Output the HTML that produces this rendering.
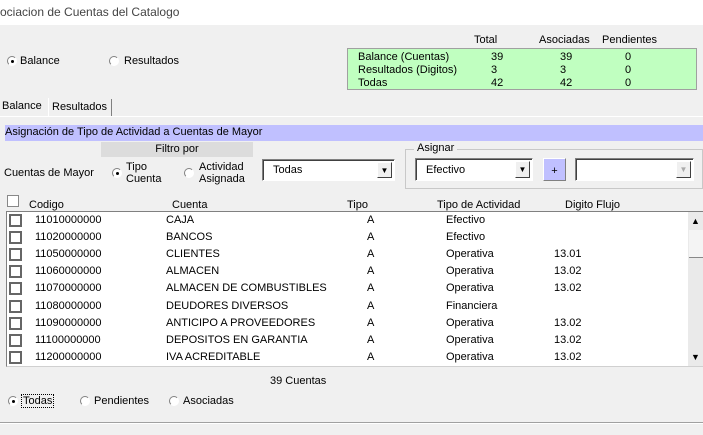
<!DOCTYPE html>
<html><head><style>
body{margin:0;width:703px;height:435px;overflow:hidden;background:#f0f0f0;font-family:"Liberation Sans",sans-serif;font-size:11px;color:#000;position:relative}
.a{position:absolute;white-space:nowrap}
.rad{position:absolute;width:10px;height:10px;border-radius:50%;border:1px solid #a0a0a0;border-color:#808080 #fff #fff #808080;background:#fff;box-sizing:border-box}
.rad.on::after{content:"";position:absolute;left:3px;top:3px;width:3px;height:3px;border-radius:50%;background:#000}
.cb{position:absolute;width:11px;height:11px;border:2px solid #555;box-sizing:border-box;background:#fff}
.combo{position:absolute;background:#fff;border:1px solid;border-color:#808080 #fff #fff #808080;box-shadow:inset 1px 1px 0 #404040;box-sizing:border-box}
.btn{position:absolute;right:2px;top:2px;width:15px;bottom:2px;background:#f0f0f0;border:1px solid;border-color:#fff #404040 #404040 #fff;box-sizing:border-box;font-size:8px;text-align:center;line-height:15px}
</style></head><body>
<div class="a" style="left:0;top:0;width:703px;height:25px;background:#fff"></div>
<div class="a" style="left:0;top:5px;font-size:12px;color:#444">ociacion de Cuentas del Catalogo</div>

<div class="rad on" style="left:7px;top:56px"></div><div class="a" style="left:20px;top:55px">Balance</div>
<div class="rad" style="left:109px;top:56px"></div><div class="a" style="left:124px;top:55px">Resultados</div>

<div class="a" style="left:474px;top:34px">Total</div>
<div class="a" style="left:539px;top:34px">Asociadas</div>
<div class="a" style="left:602px;top:34px">Pendientes</div>
<div class="a" style="left:347px;top:48px;width:350px;height:42px;background:#c0ffc0;border:1px solid #a0a0a0;box-sizing:border-box"></div>
<div class="a" style="left:358px;top:51px;line-height:13px">Balance (Cuentas)<br>Resultados (Digitos)<br>Todas</div>
<div class="a" style="left:491px;top:51px;line-height:13px">39<br>3<br>42</div>
<div class="a" style="left:560px;top:51px;line-height:13px">39<br>3<br>42</div>
<div class="a" style="left:625px;top:51px;line-height:13px">0<br>0<br>0</div>

<div class="a" style="left:0;top:116px;width:703px;height:1px;background:#fff"></div>
<div class="a" style="left:2px;top:100px">Balance</div>
<div class="a" style="left:48px;top:98px;width:1px;height:18px;background:#fff"></div>
<div class="a" style="left:52px;top:101px">Resultados</div>
<div class="a" style="left:111px;top:99px;width:1px;height:17px;background:#808080"></div>

<div class="a" style="left:5px;top:125px;width:698px;height:16px;background:#c0c0ff"></div>
<div class="a" style="left:5px;top:126px">Asignación de Tipo de Actividad a Cuentas de Mayor</div>
<div class="a" style="left:101px;top:142px;width:152px;height:15px;background:#dcdcdc;text-align:center;line-height:15px">Filtro por</div>

<div class="a" style="left:4px;top:167px">Cuentas de Mayor</div>
<div class="rad on" style="left:112px;top:168px"></div><div class="a" style="left:126px;top:161px;line-height:12px">Tipo<br>Cuenta</div>
<div class="rad" style="left:184px;top:168px"></div><div class="a" style="left:199px;top:161px;line-height:12px">Actividad<br>Asignada</div>
<div class="combo" style="left:262px;top:159px;width:133px;height:22px"><span class="a" style="left:10px;top:4px">Todas</span><div class="btn">▼</div></div>

<div class="a" style="left:405px;top:149px;width:298px;height:40px;border:1px solid #c8c8c8;box-sizing:border-box"></div>
<div class="a" style="left:414px;top:142px;background:#f0f0f0;padding:0 3px">Asignar</div>
<div class="combo" style="left:415px;top:158px;width:118px;height:23px"><span class="a" style="left:10px;top:5px">Efectivo</span><div class="btn">▼</div></div>
<div class="a" style="left:543px;top:158px;width:23px;height:23px;background:#c0c0ff;border:1px solid;border-color:#fff #808080 #808080 #fff;box-sizing:border-box;text-align:center;line-height:24px">+</div>
<div class="combo" style="left:575px;top:158px;width:119px;height:23px"><div class="btn" style="color:#aaa">▼</div></div>

<div class="a" style="left:7px;top:195px;width:10px;height:10px;border:1px solid #888;background:#fff"></div>
<div class="a" style="left:29px;top:199px">Codigo</div>
<div class="a" style="left:172px;top:199px">Cuenta</div>
<div class="a" style="left:347px;top:199px">Tipo</div>
<div class="a" style="left:437px;top:199px">Tipo de Actividad</div>
<div class="a" style="left:565px;top:199px">Digito Flujo</div>

<div class="a" style="left:6px;top:211px;width:697px;height:156px;background:#fff;border-top:1px solid #808080;border-left:1px solid #808080;border-bottom:1px solid #d0d0d0;box-sizing:border-box"></div>
<div class="a" style="left:688px;top:212px;width:15px;height:154px;background:#eaeaea"></div>
<div class="a" style="left:688px;top:212px;width:15px;height:18px;font-size:9px;text-align:center;line-height:18px">▲</div>
<div class="a" style="left:689px;top:230px;width:14px;height:27px;background:#f4f4f4;border-bottom:1px solid #888"></div>
<div class="a" style="left:688px;top:348px;width:15px;height:18px;font-size:9px;text-align:center;line-height:18px">▼</div>

<div id="rows"></div>
<script>
var d=[["11010000000","CAJA","Efectivo",""],["11020000000","BANCOS","Efectivo",""],["11050000000","CLIENTES","Operativa","13.01"],["11060000000","ALMACEN","Operativa","13.02"],["11070000000","ALMACEN DE COMBUSTIBLES","Operativa","13.02"],["11080000000","DEUDORES DIVERSOS","Financiera",""],["11090000000","ANTICIPO A PROVEEDORES","Operativa","13.02"],["11100000000","DEPOSITOS EN GARANTIA","Operativa","13.02"],["11200000000","IVA ACREDITABLE","Operativa","13.02"]];
var h="";d.forEach(function(r,i){var y=214+i*17.1;
h+='<div class="cb" style="left:9px;top:'+(y)+'px;width:13px;height:13px;border-color:#666"></div>'+
'<div class="a" style="left:35px;top:'+y+'px">'+r[0]+'</div><div class="a" style="left:166px;top:'+y+'px">'+r[1]+'</div>'+
'<div class="a" style="left:367px;top:'+y+'px">A</div><div class="a" style="left:446px;top:'+y+'px">'+r[2]+'</div><div class="a" style="left:554px;top:'+y+'px">'+r[3]+'</div>';});
document.getElementById("rows").innerHTML=h;
</script>

<div class="a" style="left:270px;top:375px">39 Cuentas</div>
<div class="rad on" style="left:8px;top:396px"></div><div class="a" style="left:21px;top:394px;border:1px dotted #000;padding:0 1px">Todas</div>
<div class="rad" style="left:80px;top:396px"></div><div class="a" style="left:94px;top:395px">Pendientes</div>
<div class="rad" style="left:169px;top:396px"></div><div class="a" style="left:183px;top:395px">Asociadas</div>
<div class="a" style="left:0;top:422px;width:703px;height:1px;background:#a0a0a0"></div>
<div class="a" style="left:0;top:423px;width:703px;height:1px;background:#fff"></div>
</body></html>
